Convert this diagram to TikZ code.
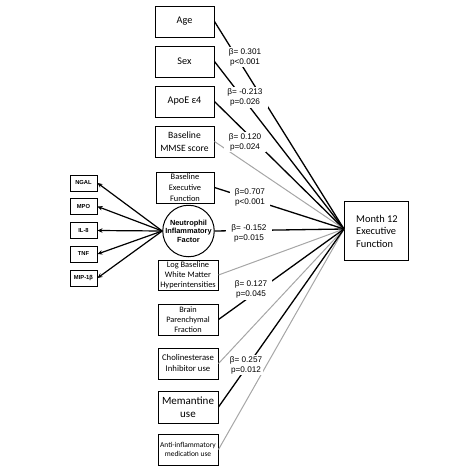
\documentclass[tikz,border=0pt]{standalone}
\usepackage{fontspec}
\setmainfont{Carlito}
\newfontfamily\lib{Liberation Sans}
\usetikzlibrary{arrows.meta}
\begin{document}
\begin{tikzpicture}[x=1pt,y=-1pt,
  box/.style={draw=black, line width=1pt, inner sep=0pt, align=center, minimum width=59pt, minimum height=31pt, fill=white},
  wbox/.style={box, minimum width=60pt},
  sbox/.style={draw=black, line width=1pt, inner sep=0pt, minimum width=27pt, minimum height=16pt, font=\lib\bfseries\fontsize{5.8}{6.5}\selectfont},
  circ/.style={draw=black, line width=1pt, circle, minimum size=45pt, inner sep=0pt, align=center, font=\lib\bfseries\fontsize{7.4}{8.5}\selectfont},
  lab/.style={fill=white, inner xsep=5pt, inner ysep=1.5pt, align=center, font=\lib\fontsize{8.2}{10}\selectfont},
  sig/.style={draw=black, line width=1.3pt},
  ns/.style={draw=black!35, line width=1pt},
  arr/.style={draw=black, line width=1.2pt, -{Stealth[length=5pt,width=4.5pt]}}
]
\path[use as bounding box] (0,0) rectangle (474,466);
\clip (0,0) rectangle (474,466);

% target
\node[draw=black, line width=1pt, minimum width=64pt, minimum height=59pt, inner sep=0pt] (tgt) at (376,230.5) {};
\node[align=left, anchor=west, inner sep=0pt, font=\fontsize{10.4}{12.5}\selectfont] (tgtt) at (356,231) {Month 12\\Executive\\Function};
\coordinate (tp) at (344,229);

% predictor boxes
\node[box, font=\fontsize{10.2}{12}\selectfont] (age) at (184.5,21.5) {Age};
\node[box, font=\fontsize{10.2}{12}\selectfont] (sex) at (184.5,61.5) {Sex};
\node[box, font=\fontsize{10.2}{12}\selectfont] (apoe) at (184.5,101.5) {ApoE ε4};
\node[box, font=\fontsize{9.6}{12.5}\selectfont] (mmse) at (184.5,141.5) {Baseline\\MMSE score};
\node[box, minimum width=58pt, font=\fontsize{8.4}{11}\selectfont] (bef) at (185,187.5) {Baseline\\Executive\\Function};
\node[circ] (nif) at (188.5,231) {Neutrophil\\Inflammatory\\Factor};
\node[wbox, minimum height=30pt, font=\fontsize{8.4}{10}\selectfont] (wmh) at (188,275) {Log Baseline\\White Matter\\Hyperintensities};
\node[wbox, font=\fontsize{8.3}{10}\selectfont] (bpf) at (188,319.5) {Brain\\Parenchymal\\Fraction};
\node[wbox, font=\fontsize{8.7}{11}\selectfont] (che) at (188,363.5) {Cholinesterase\\Inhibitor use};
\node[wbox, minimum height=32pt, font=\fontsize{11}{12.7}\selectfont] (mem) at (188,407) {Memantine\\use};
\node[wbox, font=\fontsize{7.5}{9}\selectfont] (anti) at (188,449.5) {Anti-inflammatory\\medication use};

% connectors to target
\draw[ns] (mmse.east) -- (tp);
\draw[ns] (wmh.east) -- (tp);
\draw[ns] (che.east) -- (tp);
\draw[ns] (anti.east) -- (tp);
\draw[sig] (age.east) -- (tp);
\draw[sig] (sex.east) -- (tp);
\draw[sig] (apoe.east) -- (tp);
\draw[sig] (bef.east) -- (tp);
\draw[sig] (nif.east) -- (tp);
\draw[sig] (bpf.east) -- (tp);
\draw[sig] (mem.east) -- (tp);

% coefficient labels
\node[lab] (l1) at (245,57) {β= 0.301\\p<0.001};
\node[lab] (l2) at (245,97.5) {β= -0.213\\p=0.026};
\node[lab] (l3) at (245,142) {β= 0.120\\p=0.024};
\node[lab] (l4) at (250,197) {β=0.707\\p<0.001};
\node[lab] (l5) at (249,233) {β= -0.152\\p=0.015};
\node[lab] (l6) at (251,289.5) {β= 0.127\\p=0.045};
\node[lab, inner xsep=1pt] (l7) at (246,365) {β= 0.257\\p=0.012};

% indicators
\node[sbox] (ngal) at (83.5,183) {NGAL};
\node[sbox] (mpo) at (83.5,206.5) {MPO};
\node[sbox] (il8) at (83.5,230.5) {IL-8};
\node[sbox] (tnf) at (83.5,254) {TNF};
\node[sbox] (mip) at (83.5,278) {MIP-1β};
\draw[arr] (nif.west) -- (ngal.east);
\draw[arr] (nif.west) -- (mpo.east);
\draw[arr] (nif.west) -- (il8.east);
\draw[arr] (nif.west) -- (tnf.east);
\draw[arr] (nif.west) -- (mip.east);
\end{tikzpicture}
\end{document}
